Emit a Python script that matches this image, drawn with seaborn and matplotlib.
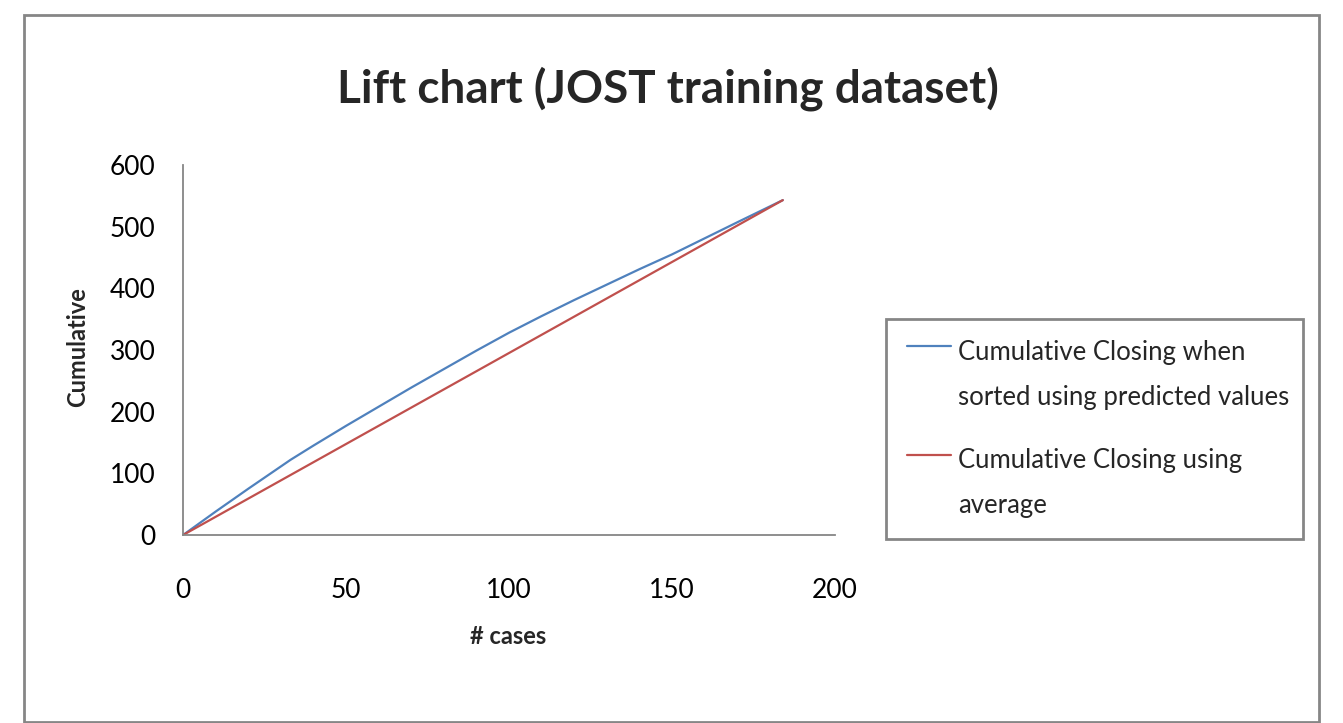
import matplotlib
matplotlib.use('Agg')
import matplotlib.pyplot as plt
import matplotlib.patches as mpatches
from matplotlib.legend_handler import HandlerLine2D
import numpy as np
import pandas as pd
import seaborn as sns

# 数据
cases_pred = [0, 10, 20, 33, 40, 50, 60, 70, 80, 90, 100, 110, 120, 130, 140, 150, 160, 170, 184]
cum_pred = [0, 38, 75, 122, 145, 177, 208, 239, 269, 299, 328, 355, 381, 406, 431, 455, 481, 507, 543]
cases_avg = [0, 184]
cum_avg = [0, 543]

label_pred = 'Cumulative Closing when\nsorted using predicted values'
label_avg = 'Cumulative Closing using\naverage'
title = 'Lift chart (JOST training dataset)'
xticks = [0, 50, 100, 150, 200]
yticks = [0, 100, 200, 300, 400, 500, 600]

df_pred = pd.DataFrame({'cases': cases_pred, 'cum': cum_pred})
df_avg = pd.DataFrame({'cases': cases_avg, 'cum': cum_avg})


class FirstLineHandler(HandlerLine2D):
    # 图例线条对齐第一行文字
    def __init__(self, shift=0, **kw):
        super().__init__(**kw)
        self.shift = shift

    def create_artists(self, legend, orig_handle, xdescent, ydescent, width, height, fontsize, trans):
        artists = super().create_artists(legend, orig_handle, xdescent, ydescent, width, height, fontsize, trans)
        for a in artists:
            a.set_ydata(np.asarray(a.get_ydata()) + self.shift)
        return artists


sns.set_style('white')
plt.rcParams['font.family'] = ['Lato', 'DejaVu Sans']

fig = plt.figure(figsize=(13.43, 7.23), dpi=100)
ax = fig.add_axes([0.1363, 0.26, 0.6217 - 0.1363, 0.7718 - 0.26])

sns.lineplot(data=df_pred, x='cases', y='cum', ax=ax, color='#4F81BD', lw=1.6, label=label_pred)
sns.lineplot(data=df_avg, x='cases', y='cum', ax=ax, color='#C0504D', lw=1.6, label=label_avg)

grey = '#868686'
ax.set_xlim(0, 200)
ax.set_ylim(0, 600)
ax.set_xticks(xticks)
ax.set_yticks(yticks)
for s in ['top', 'right']:
    ax.spines[s].set_visible(False)
for s in ['left', 'bottom']:
    ax.spines[s].set_color(grey)
    ax.spines[s].set_linewidth(1.3)
ax.tick_params(axis='both', direction='out', length=8, width=1.3, color=grey,
               labelsize=19, labelcolor='black')
ax.tick_params(axis='x', pad=23)
ax.tick_params(axis='y', pad=12)

ax.set_xlabel('# cases', fontsize=17, fontweight='bold', va='center')
ax.set_ylabel('Cumulative', fontsize=17, fontweight='bold', va='center')
ax.xaxis.set_label_coords(0.4985, -0.273)
ax.yaxis.set_label_coords(-0.161, 0.508)

fig.suptitle(title, x=0.4975, y=0.878, va='center', fontsize=33, fontweight='bold')

handles, labels = ax.get_legend_handles_labels()
leg = ax.legend(handles, labels, loc='upper left', bbox_to_anchor=(0.6597, 0.2628, 0.3105, 0.296),
                bbox_transform=fig.transFigure, mode='expand', fontsize=18.5,
                frameon=True, fancybox=False, framealpha=1, borderpad=0.8,
                handlelength=1.75, handletextpad=0.25, labelspacing=1.5, borderaxespad=0,
                handler_map={h: FirstLineHandler(shift=21.3) for h in handles})
leg.get_frame().set_edgecolor(grey)
leg.get_frame().set_linewidth(2)
for t in leg.get_texts():
    t.set_linespacing(2.0)

# 外框
border = mpatches.Rectangle((24 / 1343, 1 / 723), (1319 - 24) / 1343, (722 - 15) / 723,
                            transform=fig.transFigure, fill=False, edgecolor=grey, lw=2)
fig.patches.append(border)

fig.savefig('out.png', dpi=100)
